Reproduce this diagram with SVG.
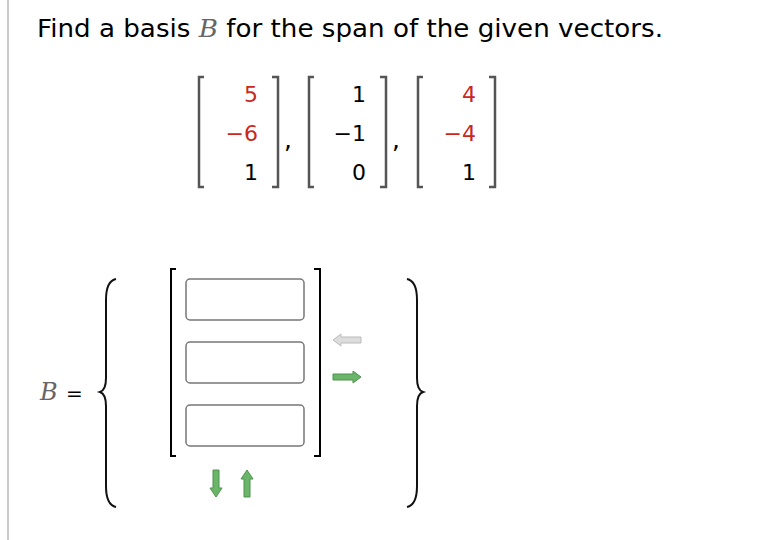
<svg xmlns="http://www.w3.org/2000/svg" width="760" height="540" viewBox="0 0 760 540">
<style>
.t{font-family:"DejaVu Sans",Verdana,sans-serif;font-size:25px;fill:#000}
.n{font-family:"DejaVu Sans",Verdana,sans-serif;font-size:22px;text-anchor:end}
.r{fill:#c8281e}.k{fill:#000}
.vb{fill:none;stroke:#555;stroke-width:2.5}
.mb{fill:none;stroke:#000;stroke-width:2}
.box{fill:#fff;stroke:#777;stroke-width:1.5}
.br{fill:none;stroke:#111;stroke-width:2}
.cB{font-family:"DejaVu Serif",serif;font-style:italic;fill:#666}
</style>
<rect width="760" height="540" fill="#fff"/>
<line x1="8" y1="0" x2="8" y2="540" stroke="#ccc" stroke-width="2"/>
<text class="t" x="37" y="37" textLength="626" lengthAdjust="spacingAndGlyphs">Find a basis <tspan class="cB">B</tspan> for the span of the given vectors.</text>
<g id="v1">
<path class="vb" d="M204,77 H199 V187 H204 M272,77 H278 V187 H272"/>
<text class="n r" x="258" y="102">5</text><text class="n r" x="258" y="141">−6</text><text class="n k" x="258" y="180">1</text>
</g>
<text class="t" x="284" y="148" font-size="22">,</text>
<g id="v2">
<path class="vb" d="M314,77 H309 V187 H314 M380,77 H386 V187 H380"/>
<text class="n k" x="366" y="102">1</text><text class="n k" x="366" y="141">−1</text><text class="n k" x="366" y="180">0</text>
</g>
<text class="t" x="392" y="148" font-size="22">,</text>
<g id="v3">
<path class="vb" d="M423,77 H418 V187 H423 M489,77 H495 V187 H489"/>
<text class="n r" x="476" y="102">4</text><text class="n r" x="476" y="141">−4</text><text class="n k" x="476" y="180">1</text>
</g>
<g id="basis">
<text x="40" y="400" class="cB" font-size="24">B</text>
<text x="66" y="400" font-family="DejaVu Sans,sans-serif" font-size="20">=</text>
<path class="br" d="M116,279 Q106,281 106,300 V378 Q106,390 100,392 Q106,394 106,406 V486 Q106,505 116,507"/>
<path class="br" d="M407,279 Q417,281 417,300 V378 Q417,390 423,392 Q417,394 417,406 V486 Q417,505 407,507"/>
<path class="mb" d="M176,269 H171 V456 H176 M314,269 H320 V456 H314"/>
<rect class="box" x="186" y="279" width="118" height="41" rx="4"/>
<rect class="box" x="186" y="342" width="118" height="41" rx="4"/>
<rect class="box" x="186" y="405" width="118" height="41" rx="4"/>
<path d="M333,340 L341,334 V337 H361 V343 H341 V346 Z" fill="#ddd" stroke="#bbb"/>
<path d="M361,377 L353,371 V374 H333 V380 H353 V383 Z" fill="#6ab56a" stroke="#4a944a"/>
<path d="M216,497 L210,488 H213 V470 H219 V488 H222 Z" fill="#6ab56a" stroke="#4a944a"/>
<path d="M247,470 L241,479 H244 V497 H250 V479 H253 Z" fill="#6ab56a" stroke="#4a944a"/>
</g>
</svg>
